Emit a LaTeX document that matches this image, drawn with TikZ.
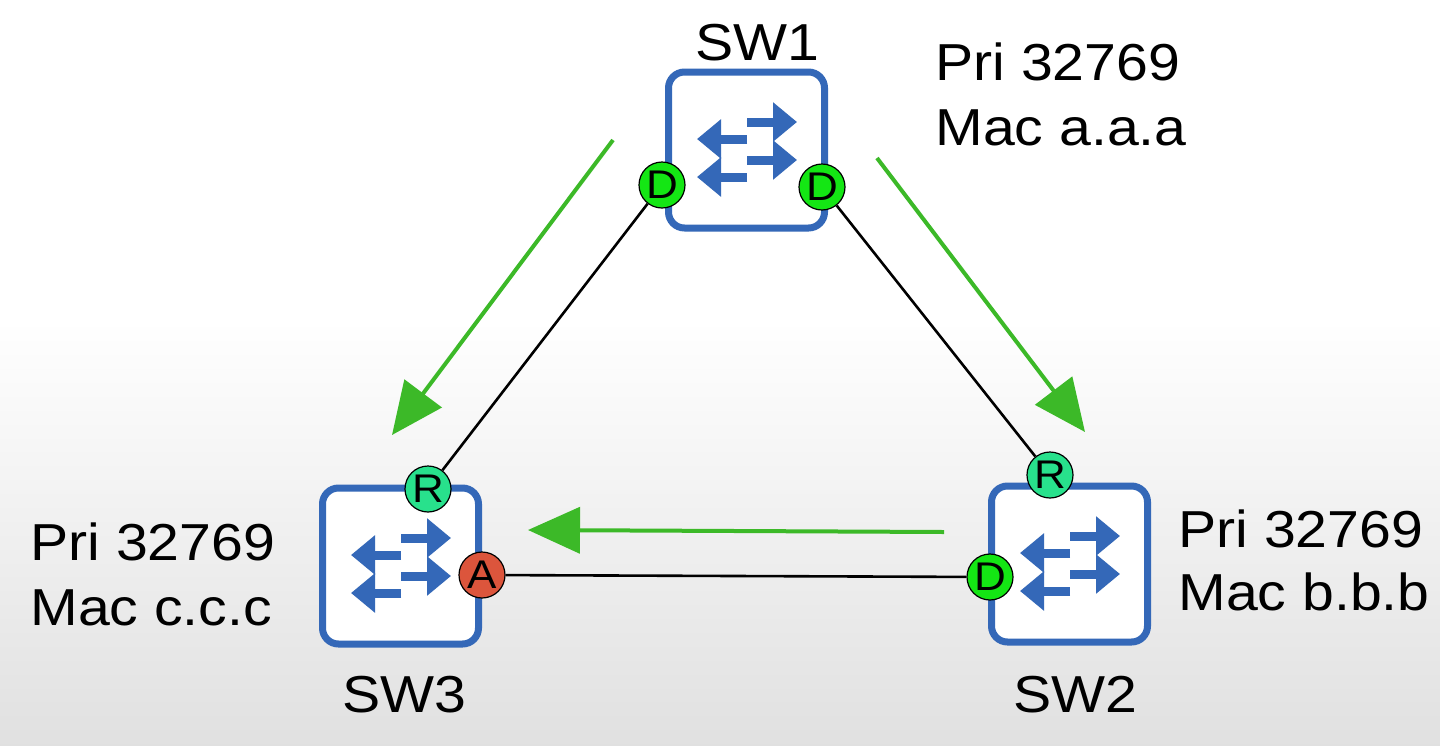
\documentclass[tikz,border=0pt]{standalone}
\usepackage{fontspec}
\setmainfont{Liberation Sans}[FakeStretch=1.1]
\usetikzlibrary{arrows.meta}
\definecolor{swblue}{RGB}{52,104,184}
\definecolor{pgreen}{RGB}{20,230,20}
\definecolor{rgreen}{RGB}{40,225,140}
\definecolor{ared}{RGB}{220,85,60}
\definecolor{flow}{RGB}{60,185,40}
\begin{document}
\begin{tikzpicture}[x=0.5pt,y=-0.5pt,
  box/.style={draw=swblue,line width=3.5pt,rounded corners=8pt,fill=white,minimum size=78pt,inner sep=0pt},
  iarr/.style={swblue,line width=4.5pt,-{Triangle[length=12pt,width=19pt]}},
  port/.style={circle,draw=black,line width=0.6pt,minimum size=23pt,inner sep=0pt,font=\fontsize{20}{20}\selectfont},
  link/.style={line width=1.3pt,black},
  flowa/.style={flow,line width=2pt,-{Triangle[length=26pt,width=23pt]}},
  lbl/.style={anchor=base west,font=\fontsize{26}{26}\selectfont,inner sep=0pt},
  pics/sw/.style={code={
    \draw[iarr] (0,-28)--(50,-28); \draw[iarr] (0,10)--(50,10);
    \draw[iarr] (0,-11)--(-50,-11); \draw[iarr] (0,27)--(-50,27);}}]
\useasboundingbox (0,0) rectangle (1440,745);
\fill[white] (0,0) rectangle (1440,320);
\shade[top color=white,bottom color=black!12] (0,320) rectangle (1440,745);
\node[box] (s1) at (746.5,150) {};
\node[box] (s3) at (400.5,566) {};
\node[box] (s2) at (1069.5,564) {};
\pic at (747,150) {sw};
\pic at (401,566) {sw};
\pic at (1070,564) {sw};
\node[port,fill=pgreen] (d1) at (662,185) {D};
\node[port,fill=pgreen] (d2) at (822,187) {D};
\node[port,fill=rgreen] (r3) at (428,489) {R};
\node[port,fill=ared] (a3) at (482,575) {A};
\node[port,fill=rgreen] (r2) at (1050,475) {R};
\node[port,fill=pgreen] (d3) at (990,577) {D};
\draw[link] (d1)--(r3);
\draw[link] (d2)--(r2);
\draw[link] (a3)--(d3);
\coordinate (f1s) at (613,140); \coordinate (f1e) at (392,435);
\coordinate (f2s) at (877,158); \coordinate (f2e) at (1085,432);
\coordinate (f3s) at (944,532); \coordinate (f3e) at (528,530);
\draw[flowa] (f1s)--(f1e);
\draw[flowa] (f2s)--(f2e);
\draw[flowa] (f3s)--(f3e);
\node[lbl,anchor=base] (t1) at (757,60) {SW1};
\node[lbl,anchor=base] (t3) at (404,712) {SW3};
\node[lbl,anchor=base] (t2) at (1075,712) {SW2};
\node[lbl] (p1) at (935,80) {Pri 32769};
\node[lbl] (m1) at (935,145) {Mac a.a.a};
\node[lbl] (p3) at (30,560) {Pri 32769};
\node[lbl] (m3) at (30,625) {Mac c.c.c};
\node[lbl] (p2) at (1178,547) {Pri 32769};
\node[lbl] (m2) at (1178,610) {Mac b.b.b};
\end{tikzpicture}
\end{document}
